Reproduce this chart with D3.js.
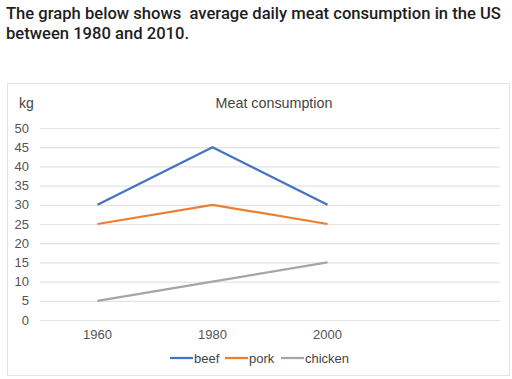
<!DOCTYPE html>
<html><head><meta charset="utf-8">
<script src="https://cdn.jsdelivr.net/npm/d3@7"></script>
<style>body{margin:0;background:#fff;} svg{display:block;}</style>
</head><body>
<svg id="c" width="512" height="379"></svg>
<script>
const categories = ["1960", "1980", "2000", ""];
const beef = [30, 45, 30];
const pork = [25, 30, 25];
const chicken = [5, 10, 15];
const seriesNames = ["beef", "pork", "chicken"];
const seriesColors = ["#4472C4", "#ED7D31", "#A5A5A5"];
const yTicks = [0, 5, 10, 15, 20, 25, 30, 35, 40, 45, 50];
const titleLines = ["The graph below shows  average daily meat consumption in the US", "between 1980 and 2010."];

const svg = d3.select("#c");
const font = "'Liberation Sans', Arial, sans-serif";

svg.selectAll("text.title").data(titleLines).join("text")
  .attr("x", 6).attr("y", (d, i) => 19 + i * 20)
  .attr("font-family", "Roboto, 'Liberation Sans', sans-serif").attr("font-size", 16.6)
  .attr("fill", "#1e1e1e").attr("font-weight", 500)
  .style("white-space", "pre").text(d => d);

svg.append("rect").attr("x", 7.5).attr("y", 83.5).attr("width", 502).attr("height", 292)
  .attr("fill", "#fff").attr("stroke", "#e4e4e4");

const x = d3.scaleBand().domain(categories).range([40, 500]);
const y = d3.scaleLinear().domain([0, 50]).range([320, 128]);

const gy = svg.append("g").attr("transform", "translate(40,0)")
  .call(d3.axisLeft(y).tickValues(yTicks).tickSize(-460).tickPadding(11));
gy.select(".domain").remove();
gy.selectAll(".tick line").attr("stroke", "#e3e3e3").attr("stroke-width", 1.2);
gy.selectAll(".tick text").attr("font-family", font).attr("font-size", 13).attr("fill", "#555");

const gx = svg.append("g").attr("transform", "translate(0,320)")
  .call(d3.axisBottom(x).tickSize(0).tickPadding(10));
gx.select(".domain").remove();
gx.selectAll(".tick text").attr("font-family", font).attr("font-size", 13).attr("fill", "#555");

svg.append("text").attr("x", 19).attr("y", 108).attr("font-family", font).attr("font-size", 14)
  .attr("fill", "#444").text("kg");
svg.append("text").attr("x", 274).attr("y", 108).attr("text-anchor", "middle")
  .attr("font-family", font).attr("font-size", 14.3).attr("fill", "#444").text("Meat consumption");

const data = [beef, pork, chicken];
const line = d3.line().x((d, i) => x(categories[i]) + x.bandwidth() / 2).y(d => y(d));
svg.selectAll("path.series").data(data).join("path")
  .attr("d", line).attr("fill", "none")
  .attr("stroke", (d, i) => seriesColors[i]).attr("stroke-width", 2.25);

const legendX = [170, 225, 281];
const lg = svg.selectAll("g.leg").data(seriesNames).join("g")
  .attr("transform", (d, i) => `translate(${legendX[i]},358)`);
lg.append("line").attr("x1", 0).attr("x2", 23).attr("y1", 0).attr("y2", 0)
  .attr("stroke", (d, i) => seriesColors[i]).attr("stroke-width", 2.25);
lg.append("text").attr("x", 24).attr("y", 4.5).attr("font-family", font).attr("font-size", 13)
  .attr("fill", "#444").text(d => d);
</script>
</body></html>
